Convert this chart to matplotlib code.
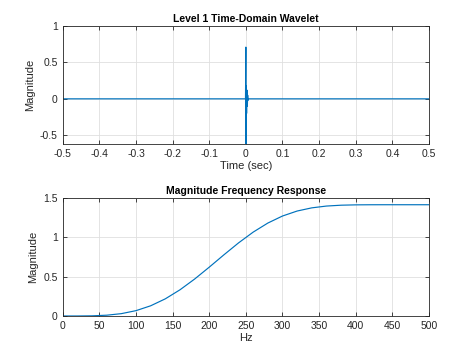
import matplotlib
matplotlib.use("Agg")
import matplotlib.pyplot as plt
from matplotlib.ticker import FuncFormatter

plt.rcParams['font.family'] = ['Liberation Sans', 'DejaVu Sans']

# Level 1 time-domain wavelet (time in sec, magnitude)
wavelet_t = [-0.5, -0.001, 0.0, 0.0005, 0.001, 0.002, 0.003, 0.004, 0.005, 0.006, 0.007, 0.008, 0.5]
wavelet_y = [0.0, 0.0, 0.71, -0.70, 0.18, -0.20, 0.12, -0.10, 0.05, -0.02, 0.0, 0.0, 0.0]

# Magnitude frequency response (Hz, magnitude)
freq_hz = [0, 20, 40, 60, 80, 100, 120, 140, 160, 180, 200, 220, 240, 260,
           280, 300, 320, 340, 360, 380, 400, 420, 440, 460, 480, 500]
freq_mag = [0.0, 0.0001, 0.002, 0.0099, 0.0297, 0.0677, 0.1294, 0.2178, 0.3324,
            0.469, 0.6205, 0.7773, 0.9291, 1.0662, 1.1814, 1.2708, 1.3342, 1.3746,
            1.3974, 1.4083, 1.4126, 1.4139, 1.4142, 1.4142, 1.4142, 1.4142]

top_xticks = [-0.5, -0.4, -0.3, -0.2, -0.1, 0, 0.1, 0.2, 0.3, 0.4, 0.5]
top_yticks = [-0.5, 0, 0.5, 1]
bot_xticks = [0, 50, 100, 150, 200, 250, 300, 350, 400, 450, 500]
bot_yticks = [0, 0.5, 1, 1.5]

LINE = '#0072BD'
AX = '#262626'
FS = 7.5
LFS = 8

fig = plt.figure(figsize=(4.74, 3.55), dpi=100)
ax1 = fig.add_axes([0.1323, 0.5944, 0.7728, 0.3324])
ax2 = fig.add_axes([0.1323, 0.1099, 0.7728, 0.3324])

def fmt(v, pos):
    return '%g' % v

def style(ax):
    ax.grid(True, color='#dfdfdf', linewidth=0.6)
    ax.set_axisbelow(True)
    for sp in ax.spines.values():
        sp.set_color(AX)
        sp.set_linewidth(0.6)
    ax.tick_params(direction='in', length=3, width=0.6, colors=AX, labelsize=FS,
                   top=True, right=True, pad=3.5)
    ax.xaxis.set_major_formatter(FuncFormatter(fmt))
    ax.yaxis.set_major_formatter(FuncFormatter(fmt))

ax1.plot(wavelet_t, wavelet_y, color=LINE, linewidth=0.85)
ax1.set_xlim(-0.5, 0.5)
ax1.set_ylim(-0.62, 1)
ax1.set_xticks(top_xticks)
ax1.set_yticks(top_yticks)
style(ax1)
ax1.set_title('Level 1 Time-Domain Wavelet', fontsize=FS, fontweight='bold', pad=3)
ax1.set_xlabel('Time (sec)', fontsize=LFS, color=AX, labelpad=1.5)
ax1.set_ylabel('Magnitude', fontsize=LFS, color=AX, labelpad=3.5)

ax2.plot(freq_hz, freq_mag, color=LINE, linewidth=0.85)
ax2.set_xlim(0, 500)
ax2.set_ylim(0, 1.5)
ax2.set_xticks(bot_xticks)
ax2.set_yticks(bot_yticks)
style(ax2)
ax2.set_title('Magnitude Frequency Response', fontsize=FS, fontweight='bold', pad=3)
ax2.set_xlabel('Hz', fontsize=LFS, color=AX, labelpad=1.5)
ax2.set_ylabel('Magnitude', fontsize=LFS, color=AX, labelpad=3.5)

fig.savefig('out.png', dpi=100)
